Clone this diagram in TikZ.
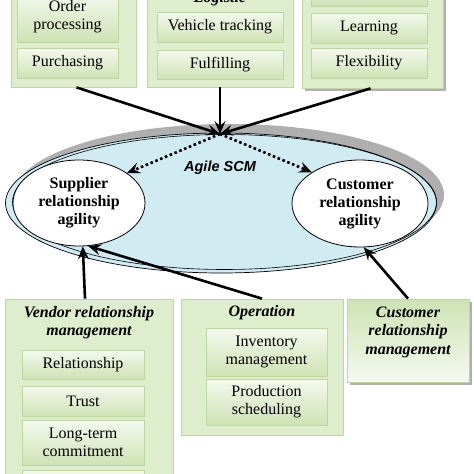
\documentclass[tikz,border=0pt]{standalone}
\usepackage{fontspec}
\setmainfont{Liberation Serif}
\setsansfont{Liberation Sans}
\usetikzlibrary{shapes.geometric,arrows.meta}
\definecolor{gborder}{RGB}{190,214,160}
\definecolor{gouter}{RGB}{222,237,203}
\definecolor{gtop}{RGB}{244,249,238}
\definecolor{gbot}{RGB}{206,227,180}
\definecolor{ellfill}{RGB}{208,235,242}
\definecolor{shad}{RGB}{175,175,175}
\tikzset{
  outerbox/.style={draw=gborder, fill=gouter, line width=0.8pt, inner sep=0pt},
  innerbox/.style={draw=gborder, top color=gtop, bottom color=gbot, line width=0.8pt,
    inner sep=0pt, align=center, font=\fontsize{16}{18}\selectfont},
  ttl/.style={align=center, font=\fontsize{16}{18.5}\selectfont\bfseries\itshape},
  agil/.style={ellipse, draw=black, fill=white, line width=0.8pt, inner sep=0pt,
    align=center, font=\fontsize{16}{18}\selectfont\bfseries},
  bigarrow/.style={line width=2.6pt, -{Stealth[length=13pt,width=11pt,inset=5pt]}},
  dotarrow/.style={line width=2.6pt, dash pattern=on 2.6pt off 2.6pt,
    -{Stealth[length=13pt,width=11pt,inset=5pt]}}
}
\begin{document}
\begin{tikzpicture}[x=1pt,y=-1pt]
\useasboundingbox (0,0) rectangle (474,474);
\clip (0,0) rectangle (474,474);
% big ellipse with shadow
\node[ellipse, fill=shad, minimum width=430pt, minimum height=142pt, inner sep=0pt] (shadow) at (229,195) {};
\node[ellipse, draw=black, fill=ellfill, line width=0.7pt,
  minimum width=431pt, minimum height=140pt, inner sep=0pt] (scm) at (221,203) {};
\node[ellipse, draw=black, line width=0.6pt,
  minimum width=424pt, minimum height=135pt, inner sep=0pt] (scmin) at (224.5,202) {};
\node[font=\fontsize{14.5}{17}\sffamily\bfseries\itshape] (scmlabel) at (220,168) {Agile SCM};
\node[agil, minimum width=132pt, minimum height=86pt] (sup) at (79,203) {Supplier\\relationship\\agility};
\node[agil, minimum width=136pt, minimum height=87pt] (cus) at (360,203.5) {Customer\\relationship\\agility};
\coordinate (hub) at (220,134);

% top left box
\node[outerbox, minimum width=125pt, minimum height=99pt] (lbox) at (73.5,37.5) {};
\node[innerbox, minimum width=101pt, minimum height=50pt] (lb1) at (67.5,17) {Order\\processing};
\node[innerbox, minimum width=101pt, minimum height=30pt] (lb2) at (67.5,63) {Purchasing};
% top middle box
\node[outerbox, minimum width=146pt, minimum height=99pt] (mbox) at (220,37.5) {};
\node[ttl] (mtitle) at (220,-1) {Logistic};
\node[innerbox, minimum width=126pt, minimum height=30pt] (mb1) at (220,27) {Vehicle tracking};
\node[innerbox, minimum width=126pt, minimum height=29pt] (mb2) at (220,64.5) {Fulfilling};
% top right box
\fill[shad] (305,-12) rectangle (446,91);
\node[outerbox, minimum width=141pt, minimum height=100pt] (rbox) at (372.5,38) {};
\node[innerbox, minimum width=116pt, minimum height=30pt] (rb0) at (369,-9) {};
\node[innerbox, minimum width=116pt, minimum height=30pt] (rb1) at (369,28) {Learning};
\node[innerbox, minimum width=116pt, minimum height=30pt] (rb2) at (369,63) {Flexibility};

% bottom left box
\node[outerbox, minimum width=168pt, minimum height=191pt] (vbox) at (89,394.5) {};
\node[ttl] (vtitle) at (89,322.5) {Vendor relationship\\management};
\node[innerbox, minimum width=122pt, minimum height=29pt] (vb1) at (83,364.5) {Relationship};
\node[innerbox, minimum width=122pt, minimum height=30pt] (vb2) at (83,401) {Trust};
\node[innerbox, minimum width=122pt, minimum height=45pt] (vb3) at (83,442.5) {Long-term\\commitment};
\node[innerbox, minimum width=122pt, minimum height=30pt] (vb4) at (83,485) {};
% bottom middle box
\node[outerbox, minimum width=162pt, minimum height=136pt] (obox) at (262,367) {};
\node[ttl] (otitle) at (262,313) {Operation};
\node[innerbox, minimum width=121pt, minimum height=48pt] (ob1) at (266.5,352) {Inventory\\management};
\node[innerbox, minimum width=121pt, minimum height=46pt] (ob2) at (266.5,402) {Production\\scheduling};
% bottom right box
\fill[shad] (350,302) rectangle (472,385);
\node[draw=gborder, top color=gbot, bottom color=gtop, line width=0.8pt, inner sep=0pt,
  minimum width=122pt, minimum height=83pt] (crm) at (408,340.5) {};
\node[ttl] (crmtitle) at (408,332) {Customer\\relationship\\management};

% connectors
\draw[bigarrow] (lbox.south) ++(3,0) -- (hub);
\draw[bigarrow] (mbox.south) -- (hub);
\draw[bigarrow] (rbox.south) ++(-2,0) -- (hub);
\draw[dotarrow] (hub) -- (sup.32);
\draw[dotarrow] (hub) -- (cus.147);
\draw[bigarrow] (vbox.north) ++(-4,0) -- (sup.-85);
\draw[bigarrow] (obox.north) -- (sup.-78);
\draw[bigarrow] (crm.north) -- (cus.-85);
\end{tikzpicture}
\end{document}
